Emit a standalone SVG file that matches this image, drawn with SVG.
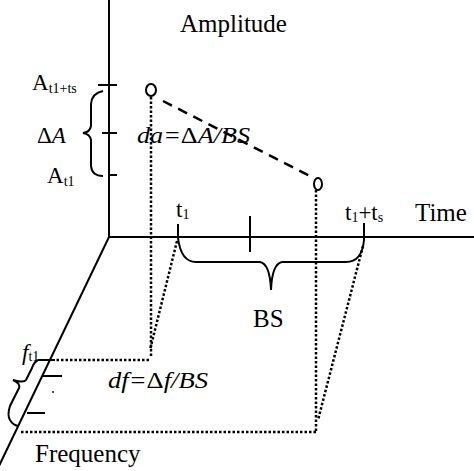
<svg xmlns="http://www.w3.org/2000/svg" width="474" height="471" viewBox="0 0 474 471">
<style>
.ln{stroke:#000;stroke-width:2;fill:none}
.dot{stroke:#000;stroke-width:2.5;fill:none;stroke-dasharray:2.5 2}
.dash{stroke:#000;stroke-width:2.5;fill:none;stroke-dasharray:10 7}
.big{font-size:25px}
.mid{font-size:23px}
.sub{font-size:14px}
.it{font-style:italic}
</style>
<rect width="474" height="471" fill="#fff"/>
<g id="axes">
<path class="ln" d="M109,0 V237 H474"/>
<path class="ln" d="M109,237 L-1,466"/>
<path class="ln" d="M98,85 H117 M102,133 H117 M108,175 H117"/>
<path class="ln" d="M178,224 V238 Q181,262 196,262 H260 Q270,264 271,290 Q272,264 282,262 H346 Q362,262 364,240 V223"/>
<path class="ln" d="M250,216 V252"/>
<path class="ln" d="M38,360 H55 M43,376 H62 M27,413 H45"/>
</g>
<g id="braces">
<path class="ln" d="M103,91 Q92,93 91,104 V126 Q90,132 83,133 Q90,134 91,140 V166 Q92,176 103,176"/>
<path class="ln" d="M38,360 Q34,362 32,368 L26,380 Q24,383 13,380 Q21,384 19,388 L10,406 Q7,415 10,420 Q13,425 18,426"/>
<circle cx="53" cy="392" r="0.9" fill="#000"/>
</g>
<g id="connectors">
<path class="dash" d="M163,101 L310,176"/>
<path class="dot" d="M151,97 V358 M149,360 H56"/>
<path class="dot" d="M316,190 V432 M316,432 H20"/>
<path class="dot" d="M177,241 L150,350"/>
<path class="dot" d="M363,246 L318,420"/>
</g>
<g id="points">
<ellipse class="ln" cx="151" cy="90" rx="5" ry="6"/>
<ellipse class="ln" cx="318" cy="184" rx="4" ry="6"/>
</g>
<g id="labels" font-family="'Liberation Serif', 'Times New Roman', serif" fill="#000">
<text class="big" x="180" y="32">Amplitude</text>
<text class="mid" x="32" y="90">A<tspan class="sub" dy="3">t1+ts</tspan></text>
<text class="mid" x="37" y="143">Δ<tspan class="it">A</tspan></text>
<text class="mid" x="47" y="183">A<tspan class="sub" dy="3">t1</tspan></text>
<text class="mid it" x="137" y="143" textLength="113" lengthAdjust="spacingAndGlyphs">da=<tspan font-style="normal">Δ</tspan>A/BS</text>
<text class="mid" x="176" y="217">t<tspan class="sub" dy="2">1</tspan></text>
<text class="mid" x="345" y="220">t<tspan class="sub" dy="2">1</tspan><tspan dy="-2">+t</tspan><tspan class="sub" dy="2">s</tspan></text>
<text class="big" x="415" y="221">Time</text>
<text class="big" x="253" y="327">BS</text>
<text class="mid" x="22" y="360"><tspan class="it">f</tspan><tspan class="sub" dy="1">t1</tspan></text>
<text class="mid it" x="108" y="388" textLength="100" lengthAdjust="spacingAndGlyphs">df=<tspan font-style="normal">Δ</tspan>f/BS</text>
<text class="big" x="35" y="462">Frequency</text>
</g>
</svg>
